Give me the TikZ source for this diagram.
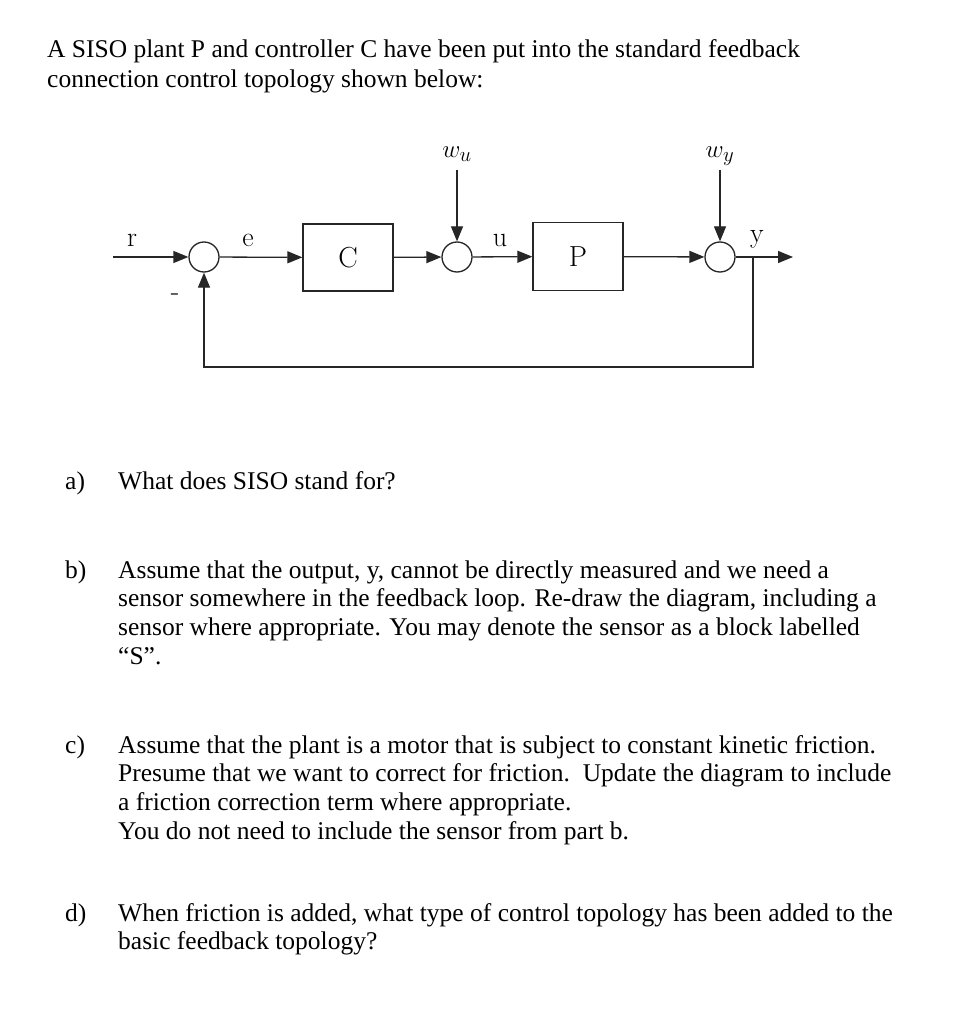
\documentclass[tikz,border=0pt]{standalone}
\usepackage{fontspec}
\setmainfont{Liberation Serif}
\newfontfamily\lmfont{Latin Modern Roman}
\usetikzlibrary{arrows.meta}
\newcommand{\txtlines}[1]{\begin{tabular}[t]{@{}l@{}}#1\end{tabular}}
\tikzset{
  sig/.style={draw=black!85, line width=1.3pt, -{Triangle[length=15pt,width=12pt]}},
  block/.style={draw=black!85, line width=1.3pt, minimum width=90pt, minimum height=67pt, inner sep=0pt, font=\lmfont\fontsize{29}{32}\selectfont},
  sumnode/.style={circle, draw=black!85, line width=1.3pt, minimum size=30pt, inner sep=0pt},
  lab/.style={anchor=base, inner sep=0pt, font=\lmfont\fontsize{28}{32}\selectfont},
  txt/.style={anchor=base west, inner sep=0pt, font=\fontsize{25.5}{28.7}\selectfont},
}
\begin{document}
\begin{tikzpicture}[x=1pt,y=-1pt]
\useasboundingbox[fill=white] (0,0) rectangle (960,1024);
% text
\node[txt, font=\fontsize{25.5}{30}\selectfont] (title) at (47,58) {\txtlines{A SISO plant P and controller C have been put into the standard feedback\\connection control topology shown below:}};
\node[txt] (qa) at (65,489) {a)};
\node[txt] (ta) at (118,489) {What does SISO stand for?};
\node[txt] (qb) at (65,578) {b)};
\node[txt] (tb) at (118,578) {\txtlines{Assume that the output, y, cannot be directly measured and we need a\\sensor somewhere in the feedback loop. Re-draw the diagram, including a\\sensor where appropriate. You may denote the sensor as a block labelled\\“S”.}};
\node[txt] (qc) at (65,753) {c)};
\node[txt] (tc) at (118,753) {\txtlines{Assume that the plant is a motor that is subject to constant kinetic friction.\\Presume that we want to correct for friction.\ \ Update the diagram to include\\a friction correction term where appropriate.\\You do not need to include the sensor from part b.}};
\node[txt] (qd) at (65,921) {d)};
\node[txt] (td) at (118,921) {\txtlines{When friction is added, what type of control topology has been added to the\\basic feedback topology?}};
% diagram
\coordinate (rin) at (113,257);
\node[sumnode] (s1) at (204,257) {};
\node[block] (C) at (348,257.5) {C};
\node[sumnode] (s2) at (457,257) {};
\node[block, minimum height=68pt] (P) at (578,256.5) {P};
\node[sumnode] (s3) at (720,257) {};
\coordinate (br) at (753,257);
\coordinate (yout) at (793,257);
\coordinate (fb) at (753,367);
\coordinate (fb2) at (204,367);
\coordinate (wu) at (457,170);
\coordinate (wy) at (720,170);
\draw[sig] (rin) -- (s1);
\draw[sig] (s1) -- (C);
\draw[sig] (C) -- (s2);
\draw[sig] (s2) -- (P);
\draw[sig] (P) -- (s3);
\draw[sig] (s3) -- (yout);
\draw[sig] (br) -- (fb) -- (fb2) -- (s1);
\draw[sig] (wu) -- (s2);
\draw[sig] (wy) -- (s3);
\node[lab] (lr) at (132,247) {r};
\node[lab] (le) at (248,247) {e};
\node[lab] (lu) at (500,246) {u};
\node[lab] (ly) at (757,243) {y};
\node[lab] (lm) at (175,300) {-};
\node[lab] (lwu) at (457,158) {$w_u$};
\node[lab] (lwy) at (720,158) {$w_y$};
\end{tikzpicture}
\end{document}
